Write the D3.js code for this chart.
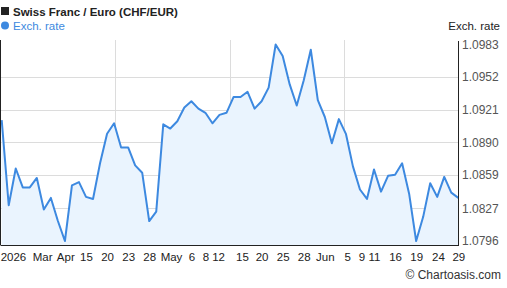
<!DOCTYPE html>
<html>
<head>
<meta charset="utf-8">
<script src="https://cdn.jsdelivr.net/npm/d3@7"></script>
<style>
  html, body { margin: 0; padding: 0; background: #fff; }
  svg { display: block; font-family: Arial, "Liberation Sans", sans-serif; }
</style>
</head>
<body>
<div id="chart"></div>
<script>
// CHF/EUR daily rate
const rates = [
  1.0911, 1.0830, 1.0865, 1.0847, 1.0847, 1.0856, 1.0826, 1.0837, 1.0815, 1.0796,
  1.0849, 1.0852, 1.0838, 1.0836, 1.0870, 1.0898, 1.0908, 1.0885, 1.0885, 1.0868,
  1.0861, 1.0815, 1.0824, 1.0907, 1.0903, 1.0910, 1.0923, 1.0929, 1.0922, 1.0918,
  1.0908, 1.0916, 1.0918, 1.0933, 1.0933, 1.0938, 1.0922, 1.0929, 1.0942, 1.0983,
  1.0972, 1.0945, 1.0925, 1.0949, 1.0978, 1.0930, 1.0914, 1.0889, 1.0912, 1.0898,
  1.0867, 1.0845, 1.0836, 1.0864, 1.0843, 1.0858, 1.0859, 1.0870, 1.0841, 1.0796,
  1.0819, 1.0851, 1.0838, 1.0857, 1.0842, 1.0837
];

// x labels and the (point index) position they sit under
const xLabels = ["2026", "Mar", "Apr", "15", "20", "23", "28", "May", "6", "8", "12", "15",
  "20", "25", "28", "Jun", "5", "9", "11", "16", "19", "24", "29"];
const xLabelIdx = [1.6, 5.75, 9.05, 12, 15, 18, 21, 24.1, 27, 29, 30.8, 34.2,
  37, 40, 43, 46, 49.2, 51.2, 53, 56, 59, 62.1, 65];

const yTicks = [1.0796, 1.0827, 1.0859, 1.0890, 1.0921, 1.0952, 1.0983];

const width = 507, height = 288;
const plot = { left: 1, right: 458, top: 40, bottom: 245 };
const font = "Arial, 'Liberation Sans', sans-serif";

const svg = d3.select("#chart").append("svg")
  .attr("width", width)
  .attr("height", height);

const x = d3.scaleLinear()
  .domain([0, rates.length - 1])
  .range([1.7, 458.3]);
const y = d3.scaleLinear()
  .domain([1.0796, 1.0983])
  .range([241, 44.5]);

// grid
const grid = svg.append("g").attr("stroke", "#dcdcdc").attr("stroke-width", 1);
yTicks.slice(1, -1).forEach(v => {
  grid.append("line")
    .attr("x1", plot.left).attr("x2", plot.right)
    .attr("y1", Math.round(y(v)) + 0.5).attr("y2", Math.round(y(v)) + 0.5);
});
[1, 2, 3].forEach(k => {
  const gx = Math.round(plot.left + (plot.right - plot.left) * k / 4) + 0.5;
  grid.append("line")
    .attr("x1", gx).attr("x2", gx)
    .attr("y1", plot.top).attr("y2", plot.bottom);
});

// area + line
const area = d3.area()
  .x((d, i) => x(i))
  .y0(plot.bottom)
  .y1(d => y(d));
const line = d3.line()
  .x((d, i) => x(i))
  .y(d => y(d));

svg.append("path")
  .datum(rates)
  .attr("d", area)
  .attr("fill", "#eaf4fe");

svg.append("path")
  .datum(rates)
  .attr("d", line)
  .attr("fill", "none")
  .attr("stroke", "#3d89e0")
  .attr("stroke-width", 2)
  .attr("stroke-linejoin", "round");

// frame lines
svg.append("line")
  .attr("x1", plot.left - 0.5).attr("x2", plot.right)
  .attr("y1", plot.bottom + 0.5).attr("y2", plot.bottom + 0.5)
  .attr("stroke", "#222");
svg.append("line")
  .attr("x1", 0.5).attr("x2", 0.5)
  .attr("y1", plot.top).attr("y2", plot.bottom)
  .attr("stroke", "#222");
svg.append("line")
  .attr("x1", plot.right + 0.5).attr("x2", plot.right + 0.5)
  .attr("y1", 41).attr("y2", plot.bottom + 1)
  .attr("stroke", "#222");

// right y axis labels
const yAxis = svg.append("g")
  .attr("transform", `translate(${plot.right},0)`)
  .call(d3.axisRight(y).tickValues(yTicks).tickSize(0).tickPadding(4)
    .tickFormat(d3.format(".4f")));
yAxis.select(".domain").remove();
yAxis.selectAll("text")
  .attr("font-size", 12)
  .attr("font-family", font)
  .attr("fill", "#555");

// bottom x axis labels
const xAxis = svg.append("g")
  .attr("transform", `translate(0,${plot.bottom})`)
  .call(d3.axisBottom(x).tickValues(xLabelIdx).tickSize(0).tickPadding(8)
    .tickFormat((d, i) => xLabels[i]));
xAxis.select(".domain").remove();
xAxis.selectAll("text")
  .attr("font-size", 11.5)
  .attr("font-family", font)
  .attr("fill", "#222");

// title and legend
svg.append("rect")
  .attr("x", 1).attr("y", 7).attr("width", 8).attr("height", 8)
  .attr("fill", "#222");
svg.append("text")
  .attr("x", 13).attr("y", 15.5)
  .attr("font-size", 11.5).attr("font-weight", "bold")
  .attr("fill", "#222")
  .text("Swiss Franc / Euro (CHF/EUR)");

svg.append("circle")
  .attr("cx", 5).attr("cy", 25.5).attr("r", 4)
  .attr("fill", "#3d89e0");
svg.append("text")
  .attr("x", 13).attr("y", 29.5)
  .attr("font-size", 11.5)
  .attr("fill", "#3d89e0")
  .text("Exch. rate");

svg.append("text")
  .attr("x", 500).attr("y", 29.5)
  .attr("text-anchor", "end")
  .attr("font-size", 11.5)
  .attr("fill", "#222")
  .text("Exch. rate");

svg.append("text")
  .attr("x", 501).attr("y", 278.5)
  .attr("text-anchor", "end")
  .attr("font-size", 12)
  .attr("fill", "#333")
  .text("© Chartoasis.com");
</script>
</body>
</html>
